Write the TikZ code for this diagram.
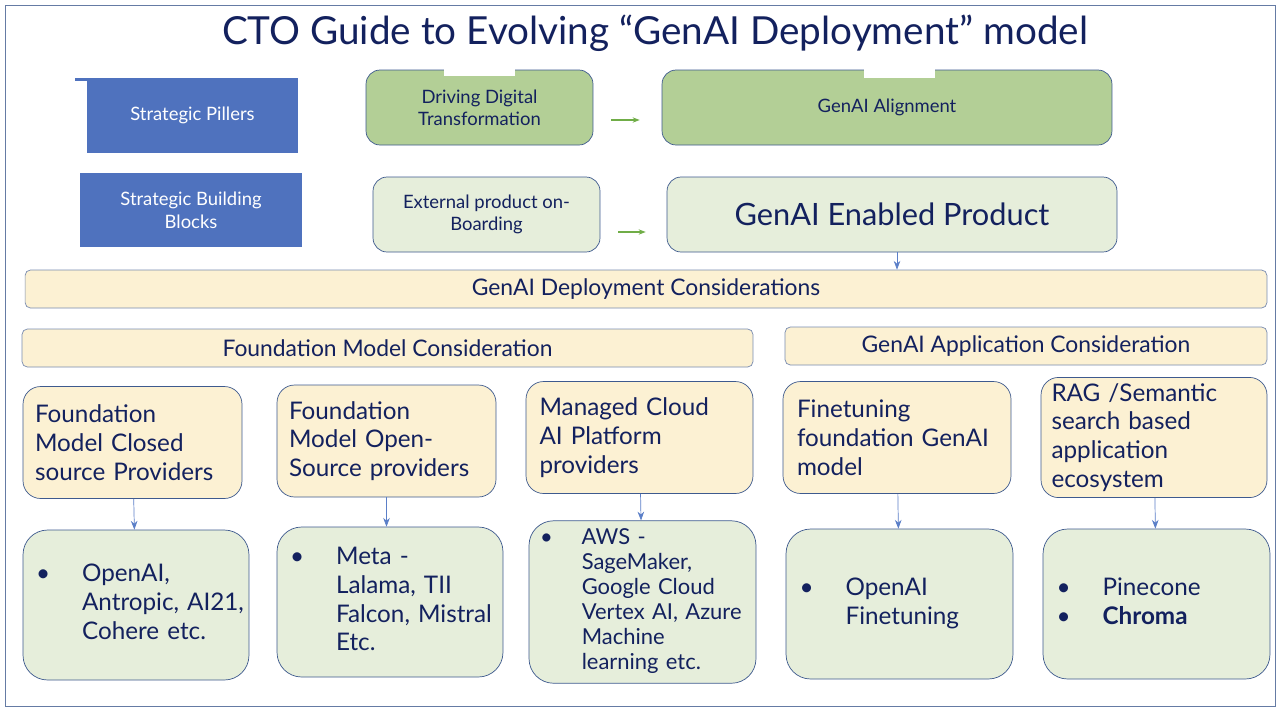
\documentclass[tikz,border=0pt]{standalone}
\usepackage{fontspec}
\setmainfont{Lato}
\usetikzlibrary{arrows.meta}
\definecolor{navy}{HTML}{13215E}
\definecolor{pillar}{HTML}{4F72BE}
\definecolor{edge}{HTML}{3E5A8E}
\definecolor{leafdark}{HTML}{B3CF96}
\definecolor{leaflight}{HTML}{E6EEDB}
\definecolor{cream}{HTML}{FCF1D3}
\definecolor{arrowg}{HTML}{70AD47}
\definecolor{arrowb}{HTML}{5B7FC8}
\newcommand{\bul}[1]{\begin{tabular}[c]{@{}p{1.9em}@{}l@{}}\textbullet & #1\end{tabular}}

\begin{document}
\begin{tikzpicture}[x=0.02cm, y=-0.02cm]
\tikzstyle{pillr}=[rectangle, fill=pillar, text=white, font=\fontsize{10.5}{13}\selectfont, align=center]
\tikzstyle{greenr}=[rectangle, rounded corners=8pt, draw=edge, thin, text=navy, align=center]
\tikzstyle{creamr}=[rectangle, rounded corners=3pt, draw=edge!70, thin, fill=cream, text=navy, font=\fontsize{13}{15}\selectfont]
\tikzstyle{optr}=[rectangle, rounded corners=10pt, draw=edge, thin, fill=cream, text=navy, align=left, font=\fontsize{13.8}{16.4}\selectfont]
\tikzstyle{listr}=[rectangle, rounded corners=14pt, draw=edge, thin, fill=leaflight, text=navy, align=left, font=\fontsize{13.8}{16.4}\selectfont]
\tikzstyle{garrow}=[draw=arrowg, thick, -{Stealth[length=4pt]}]
\tikzstyle{barrow}=[draw=arrowb, -{Stealth[length=5pt]}]

\useasboundingbox (0,0) rectangle (1280,711);
\fill[white] (0,0) rectangle (1280,711);
\draw[edge!80, thin] (5,5) rectangle (1275,706);

\node[text=navy, font=\fontsize{22}{26}\selectfont] (title) at (655,33) {CTO Guide to Evolving “GenAI Deployment” model};

% strategic rows
\node[pillr, minimum width=4.22cm, minimum height=1.5cm] (pillers) at (192.5,115.5) {Strategic Pillers};
\fill[pillar] (75,78) rectangle (88,81);
\node[pillr, minimum width=4.44cm, minimum height=1.48cm] (blocks) at (191,210) {Strategic Building\\Blocks};

\node[greenr, fill=leafdark, minimum width=4.54cm, minimum height=1.5cm, font=\fontsize{10.5}{12.5}\selectfont] (driving) at (479.5,107.5) {Driving Digital\\Transformation};
\fill[white] (444,68) rectangle (515,76);
\node[greenr, fill=leafdark, minimum width=9.0cm, minimum height=1.5cm, font=\fontsize{10.5}{12.5}\selectfont] (align) at (887,107.5) {GenAI Alignment};
\fill[white] (864,68) rectangle (935,78);
\node[greenr, fill=leaflight, minimum width=4.54cm, minimum height=1.5cm, font=\fontsize{10.5}{12.5}\selectfont] (onboard) at (486.5,214.5) {External product on-\\Boarding};
\node[greenr, fill=leaflight, minimum width=9.0cm, minimum height=1.5cm, font=\fontsize{17.5}{20}\selectfont] (enabled) at (892,214.5) {GenAI Enabled Product};
\draw[garrow, shorten <=0.36cm, shorten >=0.44cm] ([yshift=-0.25cm]driving.east) -- ([yshift=-0.25cm]align.west);
\draw[garrow, shorten <=0.36cm, shorten >=0.42cm] ([yshift=-0.35cm]onboard.east) -- ([yshift=-0.35cm]enabled.west);

% considerations
\node[creamr, minimum width=24.84cm, minimum height=0.76cm] (deploy) at (646,289) {GenAI Deployment Considerations};
\draw[barrow] ([xshift=0.1cm]enabled.south) -- ([xshift=0.1cm]enabled.south |- deploy.north);
\node[creamr, minimum width=14.62cm, minimum height=0.76cm] (fmc) at (387.5,348) {Foundation Model Consideration};
\node[creamr, minimum width=9.64cm, minimum height=0.76cm] (gac) at (1026,346) {GenAI Application Consideration};

% option boxes
\node[optr, minimum width=4.38cm, minimum height=2.24cm, text width=3.9cm] (closed) at (132.5,442.5) {Foundation\\Model Closed\\source Providers};
\node[optr, minimum width=4.38cm, minimum height=2.24cm, text width=3.9cm] (open) at (386.5,441) {Foundation\\Model Open-\\Source providers};
\node[optr, minimum width=4.54cm, minimum height=2.24cm, text width=4.0cm] (cloud) at (639.5,437.5) {Managed Cloud\\AI Platform\\providers};
\node[optr, minimum width=4.56cm, minimum height=2.24cm, text width=4.0cm] (tune) at (897,437.5) {Finetuning\\foundation GenAI\\model};
\node[optr, minimum width=4.52cm, minimum height=2.24cm, text width=4.1cm] (rag) at (1154,437.5) {RAG /Semantic\\search based\\application\\ecosystem};

% provider lists
\node[listr, minimum width=4.52cm, minimum height=3.0cm, text width=4.0cm] (closedlist) at (136,605) {\bul{OpenAI,\\ & Antropic, AI21,\\ & Cohere etc.}};
\node[listr, minimum width=4.52cm, minimum height=3.0cm, text width=4.0cm] (openlist) at (390,602) {\bul{Meta -\\ & Lalama, TII\\ & Falcon, Mistral\\ & Etc.}};
\node[listr, minimum width=4.54cm, minimum height=3.0cm, text width=4.1cm, font=\fontsize{12.5}{14.3}\selectfont] (cloudlist) at (642.5,602) {\bul{AWS -\\ & SageMaker,\\ & Google Cloud\\ & Vertex AI, Azure\\ & Machine\\ & learning etc.}};
\node[listr, minimum width=4.54cm, minimum height=3.0cm, text width=4.0cm] (tunelist) at (899.5,604) {\bul{OpenAI\\ & Finetuning}};
\node[listr, minimum width=4.54cm, minimum height=3.0cm, text width=4.0cm] (raglist) at (1156.5,604) {\bul{Pinecone\\ \textbullet & \textbf{Chroma}}};

\draw[barrow] (closed) -- (closedlist);
\draw[barrow] (open.south) -- (open.south |- openlist.north);
\draw[barrow] (cloud) -- (cloudlist);
\draw[barrow] (tune) -- (tunelist);
\draw[barrow] (rag) -- (raglist);
\end{tikzpicture}
\end{document}
